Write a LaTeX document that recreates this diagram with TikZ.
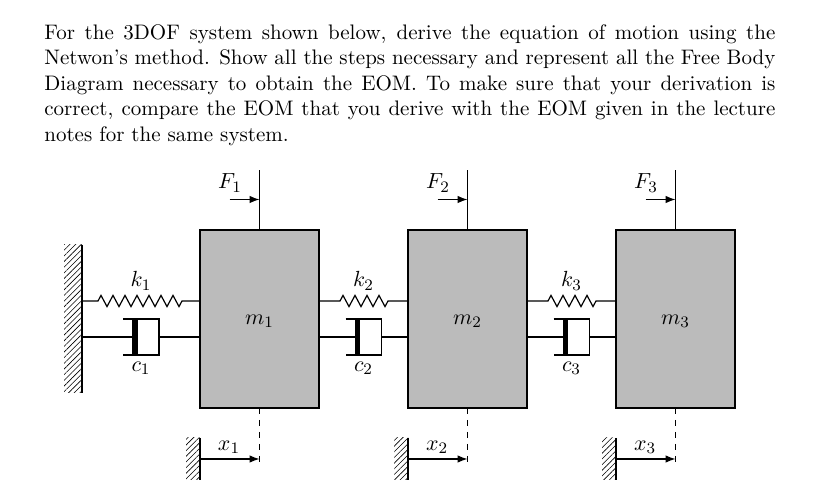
\documentclass[tikz,border=0pt,11pt]{standalone}
\usepackage{amsmath}
\usepackage{xcolor}
\usetikzlibrary{positioning,calc,arrows.meta,patterns.meta,decorations.pathmorphing}

\definecolor{massgray}{HTML}{BBBBBB}

\tikzset{
    link/.style={line width=0.6pt},
    mass/.style={draw, link, fill=massgray, minimum width=59.5pt, minimum height=89pt, inner sep=0pt, outer sep=0pt, text height=5.5pt, text depth=0pt},
    hatched/.style={pattern={Lines[angle=45,distance=2pt,line width=0.3pt]}, inner sep=0pt, outer sep=0pt},
    spring/.style 2 args={link, decorate, decoration={zigzag, segment length=6pt, amplitude=2.8pt, pre length=#1, post length=#2}},
    plate/.style={line width=2.8pt},
    motion/.style={link, -{Latex[length=5pt,width=3.8pt]}}
}

\begin{document}
\begin{tikzpicture}[x=0.5pt,y=0.5pt]
    \useasboundingbox (0,0) rectangle (823,501);

    % Problem statement
    \node[anchor=north west, text width=365.5pt, align=justify, inner sep=0pt, font=\fontsize{10.5}{12.75}\selectfont] (statement) at (44,477)
        {For the 3DOF system shown below, derive the equation of motion using the\linebreak
        Netwon's method. Show all the steps necessary and represent all the Free Body\linebreak
        Diagram necessary to obtain the EOM. To make sure that your derivation is\linebreak
        correct, compare the EOM that you derive with the EOM given in the lecture\linebreak
        notes for the same system.};

    % Masses
    \node[mass] (m1) at (259.5,182) {$m_1$};
    \node[mass, right=44.5pt of m1] (m2) {$m_2$};
    \node[mass, right=44.5pt of m2] (m3) {$m_3$};

    % Wall on the left
    \node[hatched, minimum width=9pt, minimum height=74pt] (wall) at (73,182) {};
    \draw[line width=0.9pt] (wall.north east) -- (wall.south east);

    % Spring and damper between each pair of bodies
    \foreach \l/\r/\i/\p/\q in {wall/m1/1/8pt/8.9pt, m1/m2/2/10.5pt/9.9pt, m2/m3/3/10.5pt/9.9pt} {
        \coordinate (mid\i) at ($(\l.east)!0.5!(\r.west)$);
        \draw[spring={\p}{\q}] ($(\l.east)+(0,18)$) -- ($(\r.west)+(0,18)$);
        \node (k\i) at ($(mid\i)+(0,38)$) {$k_\i$};
        \draw[link] ($(\l.east)+(0,-18)$) -- ($(mid\i)+(-6,-18)$);
        \draw[plate] ($(mid\i)+(-6,0)$) -- ($(mid\i)+(-6,-36)$);
        \draw[link] ($(mid\i)+(-18,0)$) -- ($(mid\i)+(18,0)$) -- ($(mid\i)+(18,-36)$) -- ($(mid\i)+(-18,-36)$);
        \draw[link] ($(mid\i)+(18,-18)$) -- ($(\r.west)+(0,-18)$);
        \node (c\i) at ($(mid\i)+(0,-49)$) {$c_\i$};
    }

    % Forces and displacements
    \foreach \i in {1,2,3} {
        \coordinate (top\i) at ($(m\i.north)+(0,60)$);
        \draw[link] (m\i.north) -- (top\i);
        \coordinate (Fend\i) at ($(m\i.north)+(0,30.5)$);
        \coordinate (Fstart\i) at ($(Fend\i)+(-30,0)$);
        \draw[motion] (Fstart\i) -- (Fend\i);
        \node (F\i) at ($(m\i.north)+(-29.5,47)$) {$F_\i$};

        \coordinate (tip\i) at ($(m\i.south)+(0,-57)$);
        \draw[link, dashed] (m\i.south) -- (tip\i);
        \node[hatched, minimum width=7pt, minimum height=21pt, anchor=east] (gnd\i) at (m\i.west |- 0,42) {};
        \draw[line width=0.9pt] (gnd\i.north east) -- (gnd\i.south east);
        \coordinate (xend\i) at (tip\i |- gnd\i.east);
        \draw[motion] (gnd\i.east) -- (xend\i);
        \node (x\i) at ($(gnd\i.east)+(29,12)$) {$x_\i$};
    }
\end{tikzpicture}
\end{document}
